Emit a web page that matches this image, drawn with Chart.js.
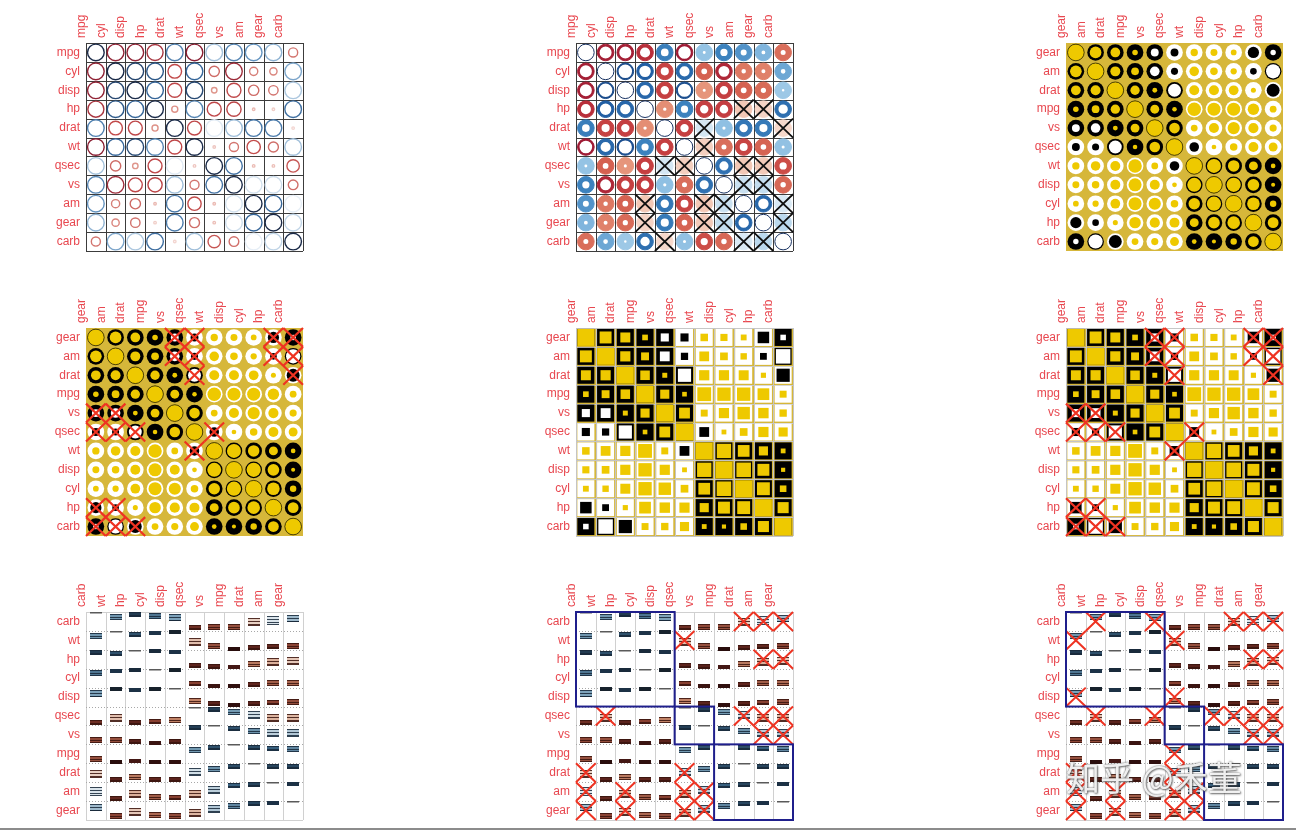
<!DOCTYPE html>
<html>
<head>
<meta charset="utf-8">
<script src="https://cdn.jsdelivr.net/npm/chart.js@4.4.1/dist/chart.umd.min.js"></script>
<style>
  html, body { margin: 0; padding: 0; background: #fff; }
  #page { position: relative; width: 1296px; height: 832px; overflow: hidden; }
  .panel { position: absolute; }
  #baseline { position: absolute; left: 0; top: 828px; width: 1296px; height: 2px; background: #8c8c8c; }
  #mark { position: absolute; left: 1066px; top: 752px; z-index: 5; font: 34px "Noto Sans CJK SC";
          color: rgba(255,255,255,0.9); white-space: nowrap;
          text-shadow: 0 0 2px rgba(70,70,70,0.9), 1px 1px 2px rgba(70,70,70,0.7); }
</style>
</head>
<body>
<div id="page">
  <div id="baseline"></div>
  <div id="mark">知乎 @禾董</div>
</div>
<script>
// variable names and the three orderings used by the panels
const varNames = ['mpg', 'cyl', 'disp', 'hp', 'drat', 'wt', 'qsec', 'vs', 'am', 'gear', 'carb'];
const orderHclust = ['gear', 'am', 'drat', 'mpg', 'vs', 'qsec', 'wt', 'disp', 'cyl', 'hp', 'carb'];
const orderBlocks = ['carb', 'wt', 'hp', 'cyl', 'disp', 'qsec', 'vs', 'mpg', 'drat', 'am', 'gear'];
const blockSizes = [5, 2, 4];

// correlation rows, columns in varNames order
const corMpg  = [ 1.00, -0.85, -0.85, -0.78,  0.68, -0.87,  0.42,  0.66,  0.60,  0.48, -0.55];
const corCyl  = [-0.85,  1.00,  0.90,  0.83, -0.70,  0.78, -0.59, -0.81, -0.52, -0.49,  0.53];
const corDisp = [-0.85,  0.90,  1.00,  0.79, -0.71,  0.89, -0.43, -0.71, -0.59, -0.56,  0.39];
const corHp   = [-0.78,  0.83,  0.79,  1.00, -0.45,  0.66, -0.71, -0.72, -0.24, -0.13,  0.75];
const corDrat = [ 0.68, -0.70, -0.71, -0.45,  1.00, -0.71,  0.09,  0.44,  0.71,  0.70, -0.09];
const corWt   = [-0.87,  0.78,  0.89,  0.66, -0.71,  1.00, -0.17, -0.55, -0.69, -0.58,  0.43];
const corQsec = [ 0.42, -0.59, -0.43, -0.71,  0.09, -0.17,  1.00,  0.74, -0.23, -0.21, -0.66];
const corVs   = [ 0.66, -0.81, -0.71, -0.72,  0.44, -0.55,  0.74,  1.00,  0.17,  0.21, -0.57];
const corAm   = [ 0.60, -0.52, -0.59, -0.24,  0.71, -0.69, -0.23,  0.17,  1.00,  0.79,  0.06];
const corGear = [ 0.48, -0.49, -0.56, -0.13,  0.70, -0.58, -0.21,  0.21,  0.79,  1.00,  0.27];
const corCarb = [-0.55,  0.53,  0.39,  0.75, -0.09,  0.43, -0.66, -0.57,  0.06,  0.27,  1.00];
const corRows = [corMpg, corCyl, corDisp, corHp, corDrat, corWt, corQsec, corVs, corAm, corGear, corCarb];

// |r| below these counts as not significant
const sigCut = 0.35;
const sigCutStrict = 0.437;

const LABEL_COLOR = '#e8474f';
const GOLD = '#eec900';
const GOLD_BG = '#d6b73a';

function corrOf(a, b) {
    return corRows[varNames.indexOf(a)][varNames.indexOf(b)];
}

// colour ramps, t = |r|
const posThin = [[0, [240, 245, 250]], [0.4, [170, 198, 222]], [0.6, [100, 148, 192]], [0.8, [50, 98, 150]], [1, [26, 42, 72]]];
const negThin = [[0, [248, 230, 226]], [0.45, [222, 146, 136]], [0.7, [194, 74, 74]], [0.9, [128, 22, 46]], [1, [100, 10, 30]]];
const posRing = [[0, [226, 238, 246]], [0.3, [182, 214, 236]], [0.45, [140, 190, 226]], [0.65, [62, 132, 192]], [0.85, [30, 90, 160]], [1, [22, 48, 96]]];
const negRing = [[0, [248, 226, 216]], [0.3, [240, 192, 172]], [0.45, [228, 142, 116]], [0.6, [212, 94, 78]], [0.75, [192, 52, 60]], [0.9, [150, 20, 50]], [1, [110, 10, 40]]];
const posBar = [[0, [236, 241, 245]], [0.4, [122, 160, 184]], [0.6, [56, 96, 126]], [0.8, [26, 46, 66]], [1, [20, 20, 20]]];
const negBar = [[0, [242, 228, 220]], [0.4, [204, 142, 112]], [0.6, [132, 60, 46]], [0.75, [76, 26, 22]], [0.9, [32, 10, 10]], [1, [20, 20, 20]]];

function ramp(stops, t) {
    t = Math.max(0, Math.min(1, t));
    for (let i = 1; i < stops.length; i++) {
        if (t <= stops[i][0]) {
            const [t0, c0] = stops[i - 1];
            const [t1, c1] = stops[i];
            const k = (t - t0) / (t1 - t0);
            return 'rgb(' + c0.map((c, j) => Math.round(c + (c1[j] - c) * k)).join(',') + ')';
        }
    }
    return 'rgb(' + stops[stops.length - 1][1].join(',') + ')';
}

function disc(ctx, x, y, r, color) {
    if (r <= 0.3) return;
    ctx.beginPath();
    ctx.arc(x, y, r, 0, Math.PI * 2);
    ctx.fillStyle = color;
    ctx.fill();
}

function box(ctx, x, y, s, color) {
    if (s <= 0.3) return;
    ctx.fillStyle = color;
    ctx.fillRect(x - s / 2, y - s / 2, s, s);
}

// one drawing routine per panel style
const glyphs = {
    outline(ctx, x, y, cw, ch, v) {
        const R = 0.44 * Math.min(cw, ch);
        const a = Math.abs(v);
        const r = v >= 0 ? R : R * Math.max(0.15, Math.min(1, (a - 0.25) / 0.55));
        ctx.beginPath();
        ctx.arc(x, y, r, 0, Math.PI * 2);
        ctx.strokeStyle = ramp(v >= 0 ? posThin : negThin, a);
        ctx.lineWidth = 1.4;
        ctx.stroke();
    },
    ring(ctx, x, y, cw, ch, v) {
        const R = 0.44 * Math.min(cw, ch);
        const a = Math.abs(v);
        const col = ramp(v >= 0 ? posRing : negRing, a);
        ctx.beginPath();
        ctx.arc(x, y, R, 0, Math.PI * 2);
        ctx.moveTo(x + R * a * a, y);
        ctx.arc(x, y, R * a * a, 0, Math.PI * 2, true);
        ctx.fillStyle = col;
        ctx.fill('evenodd');
        ctx.beginPath();
        ctx.arc(x, y, R, 0, Math.PI * 2);
        ctx.lineWidth = 1;
        ctx.strokeStyle = col;
        ctx.stroke();
    },
    goldCircle(ctx, x, y, cw, ch, v, cut) {
        const R = 0.44 * Math.min(cw, ch);
        const a = Math.abs(v);
        disc(ctx, x, y, R, v >= 0 ? '#000' : '#fff');
        if (a >= cut) {
            disc(ctx, x, y, R * Math.pow(a, 1.5), GOLD);
            if (a > 0.99) {
                ctx.beginPath();
                ctx.arc(x, y, R, 0, Math.PI * 2);
                ctx.lineWidth = 1;
                ctx.strokeStyle = 'rgba(70,60,0,0.9)';
                ctx.stroke();
            }
        } else {
            disc(ctx, x, y, R * Math.max(0, 1 - a / 0.4), v >= 0 ? '#fff' : '#000');
        }
    },
    goldSquare(ctx, x, y, cw, ch, v, cut) {
        const S = 0.9 * Math.min(cw, ch);
        const a = Math.abs(v);
        box(ctx, x, y, S, v >= 0 ? '#000' : '#fff');
        if (a >= cut) {
            box(ctx, x, y, S * Math.pow(a, 1.5), GOLD);
        } else {
            box(ctx, x, y, S * Math.max(0, 1 - a / 0.4), v >= 0 ? '#fff' : '#000');
        }
    },
    bars(ctx, x, y, cw, ch, v) {
        const a = Math.abs(v);
        const w = Math.round(0.6 * cw);
        const xl = Math.round(x - w / 2);
        const yc = y - v * 0.5 * ch;
        if (a > 0.99) {
            ctx.fillStyle = '#5a5a5a';
            ctx.fillRect(xl, Math.round(yc), w, 1.5);
            return;
        }
        const h = Math.round(3 + (1 - a) * 6);
        const y0 = Math.round(yc - h / 2);
        ctx.fillStyle = ramp(v >= 0 ? posBar : negBar, a);
        ctx.fillRect(xl, y0, w, h);
        if (h >= 5) {
            ctx.fillStyle = v >= 0 ? 'rgba(24,40,56,0.85)' : 'rgba(56,20,14,0.85)';
            for (let k = 0; k < h; k += 3) ctx.fillRect(xl, y0 + k, w, 1);
            ctx.fillRect(xl, y0 + h - 1, w, 1);
        }
    }
};

function cellSize(chart) {
    const xs = chart.scales.x, ys = chart.scales.y;
    return {
        cw: Math.abs(xs.getPixelForValue(1) - xs.getPixelForValue(0)),
        ch: Math.abs(ys.getPixelForValue(1) - ys.getPixelForValue(0))
    };
}

const corrGlyphs = {
    id: 'corrGlyphs',
    beforeDatasetsDraw(chart, args, opts) {
        const {ctx, chartArea: area} = chart;
        const {cw, ch} = cellSize(chart);
        const n = chart.scales.x.getLabels().length;
        ctx.save();
        if (opts.background) {
            ctx.fillStyle = opts.background;
            ctx.fillRect(area.left, area.top, area.right - area.left, area.bottom - area.top);
        }

        // grid lines, under the glyphs
        if (opts.grid) {
            ctx.strokeStyle = opts.grid;
            ctx.lineWidth = 1;
            for (let i = 0; i <= n; i++) {
                const gx = Math.round(area.left + i * cw) + 0.5;
                ctx.beginPath();
                ctx.moveTo(gx, area.top);
                ctx.lineTo(gx, area.bottom);
                ctx.stroke();
                const gy = Math.round(area.top + i * ch) + 0.5;
                if (opts.dotted && i > 0 && i < n) {
                    ctx.setLineDash([1, 2]);
                    ctx.strokeStyle = '#a8a8a8';
                }
                ctx.beginPath();
                ctx.moveTo(area.left, gy);
                ctx.lineTo(area.right, gy);
                ctx.stroke();
                ctx.setLineDash([]);
                ctx.strokeStyle = opts.grid;
            }
        }
        ctx.restore();
    },
    afterDatasetsDraw(chart, args, opts) {
        const {ctx, chartArea: area} = chart;
        const {cw, ch} = cellSize(chart);
        const cells = chart.data.datasets[0].data;
        const meta = chart.getDatasetMeta(0);
        ctx.save();
        meta.data.forEach((pt, i) => {
            glyphs[opts.style](ctx, pt.x, pt.y, cw, ch, cells[i].v, opts.cut);
        });

        // crosses on non significant cells
        if (opts.cross) {
            ctx.strokeStyle = opts.cross;
            ctx.lineWidth = opts.crossWidth;
            meta.data.forEach((pt, i) => {
                if (Math.abs(cells[i].v) >= opts.crossCut) return;
                ctx.beginPath();
                ctx.moveTo(pt.x - cw / 2, pt.y - ch / 2);
                ctx.lineTo(pt.x + cw / 2, pt.y + ch / 2);
                ctx.moveTo(pt.x + cw / 2, pt.y - ch / 2);
                ctx.lineTo(pt.x - cw / 2, pt.y + ch / 2);
                ctx.stroke();
            });
        }

        // cluster rectangles
        if (opts.blocks) {
            ctx.strokeStyle = '#1f1f8c';
            ctx.lineWidth = 2;
            let start = 0;
            opts.blocks.forEach(size => {
                ctx.strokeRect(area.left + start * cw, area.top + start * ch, size * cw, size * ch);
                start += size;
            });
        }
        ctx.restore();
    }
};

const AXIS_W = 46, AXIS_H = 43, MAT_W = 217, MAT_H = 208;
const page = document.getElementById('page');
const mark = document.getElementById('mark');

function buildPanel(left, top, order, glyphOpts) {
    const canvas = document.createElement('canvas');
    canvas.width = AXIS_W + MAT_W + 4;
    canvas.height = AXIS_H + MAT_H + 4;
    canvas.className = 'panel';
    canvas.style.left = (left - AXIS_W) + 'px';
    canvas.style.top = (top - AXIS_H) + 'px';
    page.insertBefore(canvas, mark);

    const cells = [];
    order.forEach(row => {
        order.forEach(col => cells.push({x: col, y: row, v: corrOf(row, col)}));
    });

    const tickFont = {family: '"Liberation Sans", Arial, sans-serif', size: 12};
    return new Chart(canvas, {
        type: 'scatter',
        data: {datasets: [{data: cells, pointRadius: 0, pointHoverRadius: 0}]},
        options: {
            responsive: false,
            animation: false,
            events: [],
            layout: {padding: {right: 4, bottom: 4}},
            plugins: {
                legend: {display: false},
                tooltip: {enabled: false},
                corrGlyphs: glyphOpts
            },
            scales: {
                x: {
                    type: 'category',
                    labels: order,
                    position: 'top',
                    offset: true,
                    grid: {display: false, drawTicks: false},
                    border: {display: false},
                    ticks: {color: LABEL_COLOR, font: tickFont, minRotation: 90, maxRotation: 90, autoSkip: false, padding: 5},
                    afterFit: s => {
                        s.height = AXIS_H;
                        s.paddingLeft = 0;
                        s.paddingRight = 0;
                    }
                },
                y: {
                    type: 'category',
                    labels: order,
                    position: 'left',
                    offset: true,
                    grid: {display: false, drawTicks: false},
                    border: {display: false},
                    ticks: {color: LABEL_COLOR, font: tickFont, autoSkip: false, padding: 6},
                    afterFit: s => {
                        s.width = AXIS_W;
                        s.paddingTop = 0;
                        s.paddingBottom = 0;
                    }
                }
            }
        },
        plugins: [corrGlyphs]
    });
}

const colLeft = [86, 576, 1066];
const rowTop = [43, 328, 612];

buildPanel(colLeft[0], rowTop[0], varNames, {style: 'outline', grid: '#3c3c3c'});
buildPanel(colLeft[1], rowTop[0], varNames, {style: 'ring', grid: '#3c3c3c', cross: '#111', crossWidth: 1.8, crossCut: sigCut});
buildPanel(colLeft[2], rowTop[0], orderHclust, {style: 'goldCircle', cut: sigCut, background: GOLD_BG});

buildPanel(colLeft[0], rowTop[1], orderHclust, {style: 'goldCircle', cut: sigCut, background: GOLD_BG, cross: '#ee3322', crossWidth: 2.2, crossCut: sigCut});
buildPanel(colLeft[1], rowTop[1], orderHclust, {style: 'goldSquare', cut: sigCut, background: GOLD_BG, grid: '#c4c4c4'});
buildPanel(colLeft[2], rowTop[1], orderHclust, {style: 'goldSquare', cut: sigCut, background: GOLD_BG, grid: '#c4c4c4', cross: '#ee3322', crossWidth: 2.2, crossCut: sigCut});

buildPanel(colLeft[0], rowTop[2], orderBlocks, {style: 'bars', grid: '#d0d0d0', dotted: true});
buildPanel(colLeft[1], rowTop[2], orderBlocks, {style: 'bars', grid: '#d0d0d0', dotted: true, cross: '#ee3322', crossWidth: 2, crossCut: sigCut, blocks: blockSizes});
buildPanel(colLeft[2], rowTop[2], orderBlocks, {style: 'bars', grid: '#d0d0d0', dotted: true, cross: '#ee3322', crossWidth: 2, crossCut: sigCutStrict, blocks: blockSizes});
</script>
</body>
</html>
